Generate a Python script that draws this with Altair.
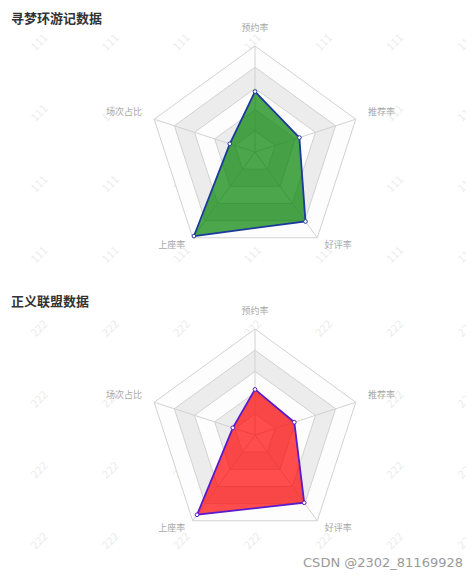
import altair as alt
import pandas as pd

indicators = ["预约率", "推荐率", "好评率", "上座率", "场次占比"]
max_value = 100
coco_title = "寻梦环游记数据"
coco_values = [57, 44, 81, 98, 25]
justice_title = "正义联盟数据"
justice_values = [43, 39, 79, 93, 22]
grid_levels = [0.2, 0.4, 0.6, 0.8, 1.0]

FONT = "Noto Sans CJK SC"
WIDTH = 455
RADIUS_PX = 106
CENTER_X = 244
CENTER_Y = 144
BAND_FILLS = ["#fdfdfd", "#ececec"]

ANGLE = "PI / 2 - 2 * PI * datum.i / 5"


def polar(chart, radius):
    return chart.transform_calculate(
        a=ANGLE,
    ).transform_calculate(
        x=f"({radius}) * cos(datum.a)",
        y=f"({radius}) * sin(datum.a)",
    )


def radar(title, values, fill, line, mark_text, height, mark_top):
    x_scale = alt.Scale(domain=[-CENTER_X / RADIUS_PX, (WIDTH - CENTER_X) / RADIUS_PX], nice=False, zero=False)
    y_scale = alt.Scale(domain=[-(height - CENTER_Y) / RADIUS_PX, CENTER_Y / RADIUS_PX], nice=False, zero=False)
    X = alt.X("x:Q", scale=x_scale, axis=None)
    Y = alt.Y("y:Q", scale=y_scale, axis=None)

    axis_frame = pd.DataFrame({"i": range(len(indicators)), "name": indicators})
    grid_frame = pd.DataFrame(
        [{"k": k, "level": lv, "i": i} for k, lv in enumerate(grid_levels) for i in range(len(indicators))]
    )
    value_frame = pd.DataFrame({"i": range(len(indicators)), "name": indicators, "value": values})
    marks_frame = pd.DataFrame([{"col": c, "row": r} for c in range(7) for r in range(4)])

    watermark = (
        alt.Chart(marks_frame)
        .transform_calculate(x="-2.03 + 0.671 * datum.col", y=f"{mark_top} - 0.668 * datum.row")
        .mark_text(text=mark_text, angle=315, fontSize=11, color="#ececec", font=FONT, clip=True)
        .encode(x=X, y=Y)
    )

    layers = [watermark]
    # split areas, outer ring first so the inner ones paint over it
    for k in reversed(range(len(grid_levels))):
        ring = polar(alt.Chart(grid_frame).transform_filter(f"datum.k == {k}"), "datum.level").mark_line(
            interpolate="linear-closed", fill=BAND_FILLS[k % 2], stroke="#d2d2d2", strokeWidth=1
        ).encode(x=X, y=Y, order="i:Q")
        layers.append(ring)

    spokes = polar(alt.Chart(axis_frame), "1").transform_calculate(x0="0", y0="0").mark_rule(
        color="#d2d2d2", strokeWidth=1
    ).encode(x=alt.X("x0:Q", scale=x_scale, axis=None), y=alt.Y("y0:Q", scale=y_scale, axis=None), x2="x:Q", y2="y:Q")
    layers.append(spokes)

    area = polar(alt.Chart(value_frame), f"datum.value / {max_value}")
    layers.append(
        area.mark_line(
            interpolate="linear-closed", fill=fill, fillOpacity=0.7, stroke=line, strokeWidth=1.8
        ).encode(x=X, y=Y, order="i:Q")
    )
    layers.append(
        area.mark_point(filled=True, fill="white", stroke=line, strokeWidth=1, size=14, opacity=1).encode(x=X, y=Y)
    )

    label_base = polar(alt.Chart(axis_frame), "1.12")
    text_style = dict(fontSize=9, color="#a8a8a8", font=FONT)
    layers.append(
        label_base.transform_filter("datum.i == 0")
        .mark_text(align="center", baseline="bottom", **text_style)
        .encode(x=X, y=Y, text="name:N")
    )
    layers.append(
        label_base.transform_filter("cos(datum.a) > 0.1")
        .mark_text(align="left", baseline="middle", dy=-3, **text_style)
        .encode(x=X, y=Y, text="name:N")
    )
    layers.append(
        label_base.transform_filter("cos(datum.a) < -0.1")
        .mark_text(align="right", baseline="middle", dy=-3, **text_style)
        .encode(x=X, y=Y, text="name:N")
    )

    # chart heading drawn inside the panel, top-left
    layers.append(
        alt.Chart(pd.DataFrame({"t": [title]}))
        .mark_text(align="left", baseline="middle", fontSize=13, fontWeight="bold", color="#333333", font=FONT)
        .encode(x=alt.value(0), y=alt.value(10.5), text="t:N")
    )

    return alt.layer(*layers).properties(width=WIDTH, height=height)


top = radar(coco_title, coco_values, "green", "#1b3a9c", "111", 283, 1.03)
bottom = radar(justice_title, justice_values, "red", "#5a1bcc", "222", 276, 1.0)

credit = (
    alt.Chart(pd.DataFrame({"t": ["CSDN @2302_81169928"]}))
    .mark_text(align="right", baseline="middle", fontSize=13, color="#9a9a9a", font="DejaVu Sans")
    .encode(x=alt.value(452), y=alt.value(272), text="t:N")
)
bottom = alt.layer(bottom, credit)

chart = (
    alt.vconcat(top, bottom, spacing=0)
    .properties(padding={"left": 3, "top": 0, "right": 0, "bottom": 0}, background="white")
    .configure_view(stroke=None)
)

chart.save("out.html", embed_options={"renderer": "svg", "actions": False})
